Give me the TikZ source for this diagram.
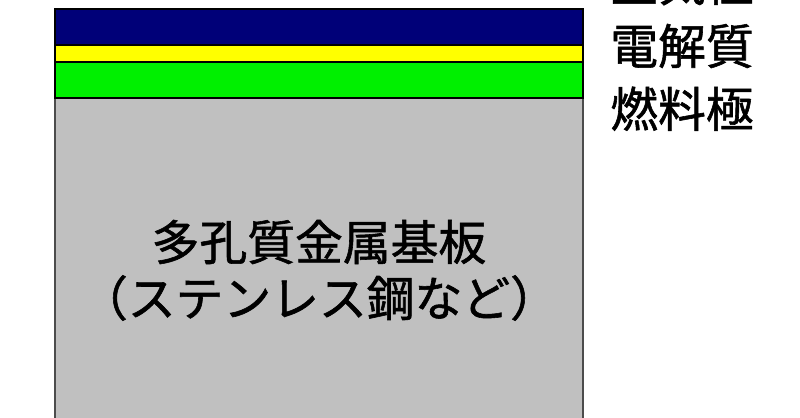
\documentclass[tikz,border=0pt]{standalone}
\usepackage{fontspec}
\newfontfamily\jpfont[FakeBold=1.2]{Noto Sans CJK JP}
\usetikzlibrary{positioning}

\definecolor{luftblau}{RGB}{0,0,120}
\definecolor{elgelb}{RGB}{255,255,0}
\definecolor{brgruen}{RGB}{0,240,0}
\definecolor{metallgrau}{RGB}{192,192,192}

\begin{document}
\begin{tikzpicture}[
    layer/.style={draw=black, line width=1.2pt},
    every node/.style={font=\jpfont\fontsize{34}{40}\selectfont, inner sep=0pt},
    side/.style={anchor=center}
]
\useasboundingbox (0,0) rectangle (20,10.45);
\clip (0,0) rectangle (20,10.45);

% Schichten
\fill[white] (0,0) rectangle (20,10.45);
\draw[layer, draw=black!70, fill=metallgrau] (1.375,-0.5) rectangle (14.575,8.0);
\draw[layer, fill=brgruen] (1.375,8.0) rectangle (14.575,8.9);
\draw[layer, fill=elgelb] (1.375,8.9) rectangle (14.575,9.325);
\draw[layer, fill=luftblau] (1.375,9.325) rectangle (14.575,10.225);

% Beschriftung
\node (substrat) at (7.975,4.4) {多孔質金属基板};
\node (material) at (7.975,3.0) {（ステンレス鋼など）};
\node[side] (elektrolyt) at (17.05,9.3) {電解質};
\node[side] (kathode) [above=0.45cm of elektrolyt] {空気極};
\node[side] (anode) [below=0.45cm of elektrolyt] {燃料極};

\end{tikzpicture}
\end{document}
